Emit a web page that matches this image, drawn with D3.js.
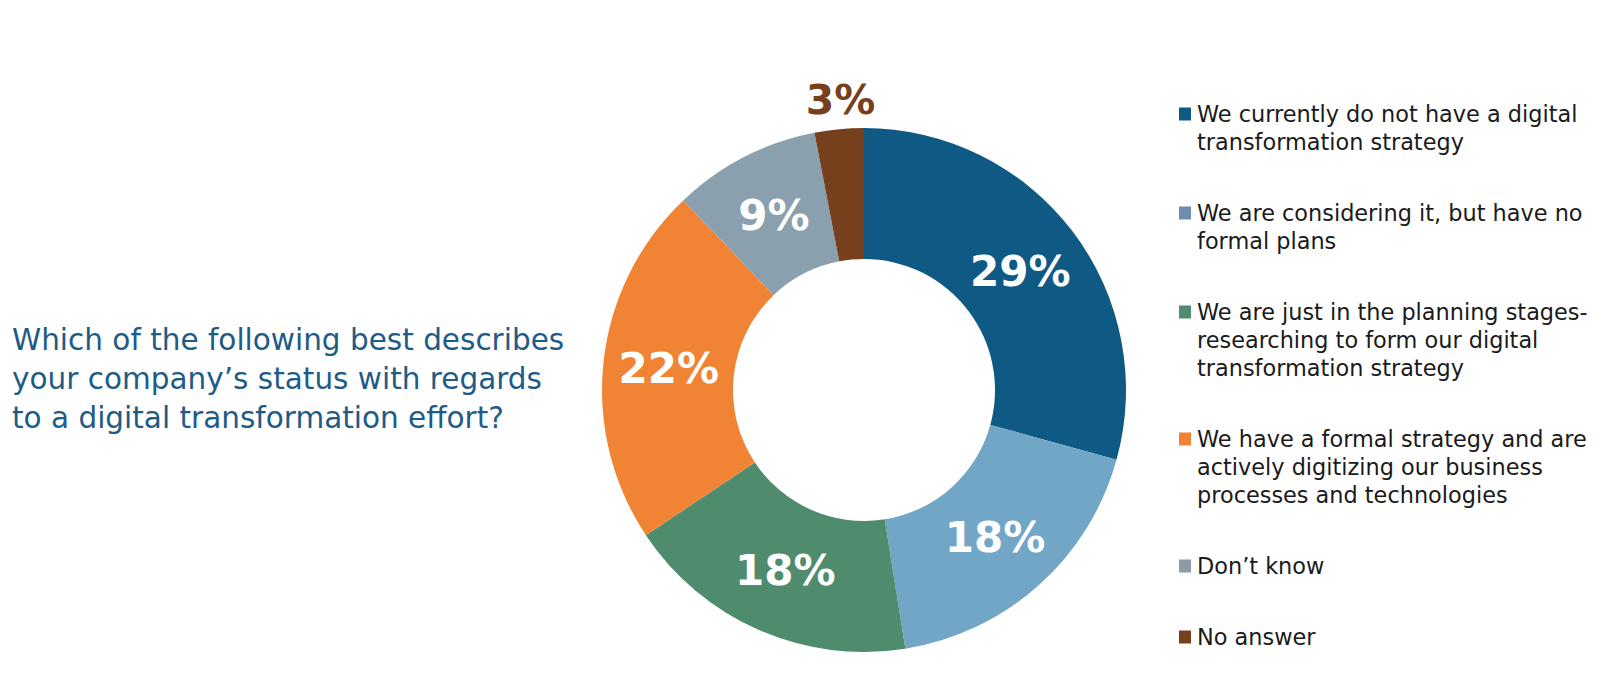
<!DOCTYPE html>
<html>
<head>
<meta charset="utf-8">
<script src="https://cdn.jsdelivr.net/npm/d3@7"></script>
<style>
  html, body { margin: 0; padding: 0; background: #ffffff; }
  svg { display: block; }
</style>
</head>
<body>
<svg id="chart" width="1610" height="684"></svg>
<script>
// ---- data ----
const categories = [
  "We currently do not have a digital transformation strategy",
  "We are considering it, but have no formal plans",
  "We are just in the planning stages- researching to form our digital transformation strategy",
  "We have a formal strategy and are actively digitizing our business processes and technologies",
  "Don\u2019t know",
  "No answer"
];
const legendLines = [
  ["We currently do not have a digital", "transformation strategy"],
  ["We are considering it, but have no", "formal plans"],
  ["We are just in the planning stages-", "researching to form our digital", "transformation strategy"],
  ["We have a formal strategy and are", "actively digitizing our business", "processes and technologies"],
  ["Don\u2019t know"],
  ["No answer"]
];
const values = [29, 18, 18, 22, 9, 3];
const sliceColors = ["#0f5a85", "#72a6c7", "#4f8b6d", "#f08434", "#8aa0ae", "#77401d"];
const legendColors = ["#0f5a85", "#6d8db3", "#4f8b6d", "#f08434", "#8e9aa6", "#77401d"];
const titleLines = [
  "Which of the following best describes",
  "your company\u2019s status with regards",
  "to a digital transformation effort?"
];

// ---- layout ----
const svg = d3.select("#chart");
const cx = 864, cy = 390;
const outerR = 262, innerR = 131;

// title
const title = svg.append("g");
title.selectAll("text").data(titleLines).join("text")
  .attr("x", 12)
  .attr("y", (d, i) => 350 + i * 38.8)
  .attr("font-family", "DejaVu Sans, sans-serif")
  .attr("font-size", 29.5)
  .attr("fill", "#1e5b87")
  .text(d => d);

// donut
const pie = d3.pie().sort(null).value(d => d);
const arcs = pie(values);
const arc = d3.arc().innerRadius(innerR).outerRadius(outerR);

const donut = svg.append("g")
  .attr("transform", `translate(${cx},${cy})`);
donut.selectAll("path").data(arcs).join("path")
  .attr("d", arc)
  .attr("fill", (d, i) => sliceColors[i]);

// labels
const outsideArc = d3.arc().innerRadius(290).outerRadius(290);
donut.append("g").selectAll("text").data(arcs).join("text")
  .attr("transform", d => {
    const inside = d.data >= 5;
    const c = inside ? arc.centroid(d) : outsideArc.centroid(d);
    return `translate(${c[0] + (inside ? 0 : 4)},${c[1] - (inside ? 0 : 2)})`;
  })
  .attr("text-anchor", "middle")
  .attr("dy", "0.36em")
  .attr("font-family", "DejaVu Sans, sans-serif")
  .attr("font-weight", "bold")
  .attr("font-size", d => d.data >= 5 ? 42 : 41)
  .attr("fill", (d, i) => d.data >= 5 ? "#ffffff" : sliceColors[i])
  .text(d => d.data + "%");

// legend
const legend = svg.append("g");
const lineH = 28, gap = 71, lx = 1179;
let y = 121.5;
legendLines.forEach((lines, i) => {
  const g = legend.append("g");
  g.append("rect")
    .attr("x", lx).attr("y", y - 14)
    .attr("width", 12).attr("height", 13)
    .attr("fill", legendColors[i]);
  g.selectAll("text").data(lines).join("text")
    .attr("x", lx + 18)
    .attr("y", (d, j) => y + j * lineH)
    .attr("font-family", "DejaVu Sans, sans-serif")
    .attr("font-size", 22.4)
    .attr("fill", "#1a1a1a")
    .text(d => d);
  y += (lines.length - 1) * lineH + gap;
});
</script>
</body>
</html>
